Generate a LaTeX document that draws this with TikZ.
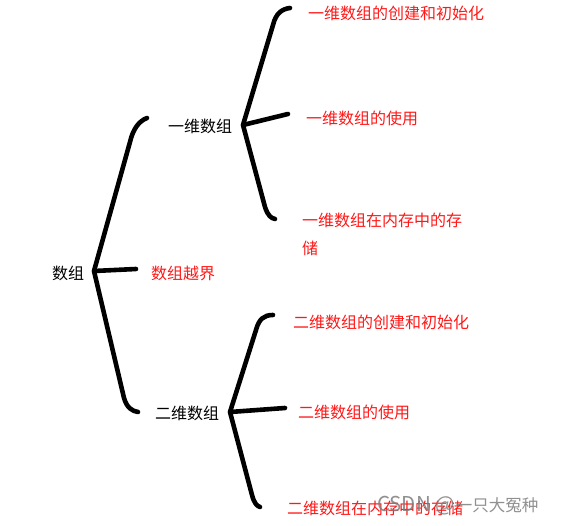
\documentclass[tikz,border=0pt]{standalone}
\usepackage{fontspec}
\setmainfont{Noto Sans CJK SC}
\definecolor{itemred}{RGB}{255,24,24}
\definecolor{wmgray}{RGB}{125,125,125}
\tikzset{
  lbl/.style={anchor=west, inner sep=0pt, font=\fontsize{16}{18}\selectfont},
  redlbl/.style={lbl, text=itemred},
  arm/.style={line width=4.6pt, line cap=round, line join=round, black},
  wm/.style={anchor=west, inner sep=0pt, font=\fontsize{16.5}{18}\selectfont, text=wmgray, opacity=0.85}
}
\begin{document}
\begin{tikzpicture}[x=1pt,y=-1pt]
\useasboundingbox (0,0) rectangle (563,526);
% nodes
\node[lbl] (root) at (52,273) {数组};
\node[redlbl] (bound) at (151,273) {数组越界};
\node[lbl] (one) at (168,126) {一维数组};
\node[lbl] (two) at (155,413) {二维数组};
\node[redlbl] (o1) at (308,13) {一维数组的创建和初始化};
\node[redlbl] (o2) at (306,118) {一维数组的使用};
\node[redlbl, align=left] (o3) at (302,234) {一维数组在内存中的存\\[10pt]储};
\node[redlbl] (t1) at (293,322) {二维数组的创建和初始化};
\node[redlbl] (t2) at (298,412) {二维数组的使用};
\node[redlbl] (t3) at (287,508) {二维数组在内存中的存储};
\node[wm] (mark) at (377,506) {{\fontsize{20.5}{22}\selectfont CSDN @}\hspace{1pt}一只大冤种};
% brace coordinates
\coordinate (v0) at (94,271);
\coordinate (v0t) at (130,142);
\coordinate (e0t) at (147,118);
\coordinate (v0b) at (124,398);
\coordinate (e0b) at (138,412);
\coordinate (e0m) at (136,269);
\coordinate (v1) at (243,125);
\coordinate (v1t) at (273,25);
\coordinate (e1t) at (290,8);
\coordinate (e1m) at (288,114);
\coordinate (v1b) at (265,207);
\coordinate (e1b) at (275,219);
\coordinate (v2) at (230,412);
\coordinate (v2t) at (256,330);
\coordinate (e2t) at (273,315);
\coordinate (e2m) at (285,408);
\coordinate (v2b) at (252,495);
\coordinate (e2b) at (260,507);
% main brace
\draw[arm] (e0t) .. controls (139,121) and (133,129) .. (v0t) -- (v0) -- (v0b) .. controls (127,408) and (132,411) .. (e0b);
\draw[arm] (v0) -- (e0m);
% one-dim brace
\draw[arm] (e1t) .. controls (282,9) and (276,13) .. (v1t) -- (v1) -- (v1b) .. controls (268,216) and (271,218) .. (e1b);
\draw[arm] (v1) -- (e1m);
% two-dim brace
\draw[arm] (e2t) .. controls (264,315) and (259,319) .. (v2t) -- (v2) -- (v2b) .. controls (254,503) and (257,506) .. (e2b);
\draw[arm] (v2) -- (e2m);
\end{tikzpicture}
\end{document}
